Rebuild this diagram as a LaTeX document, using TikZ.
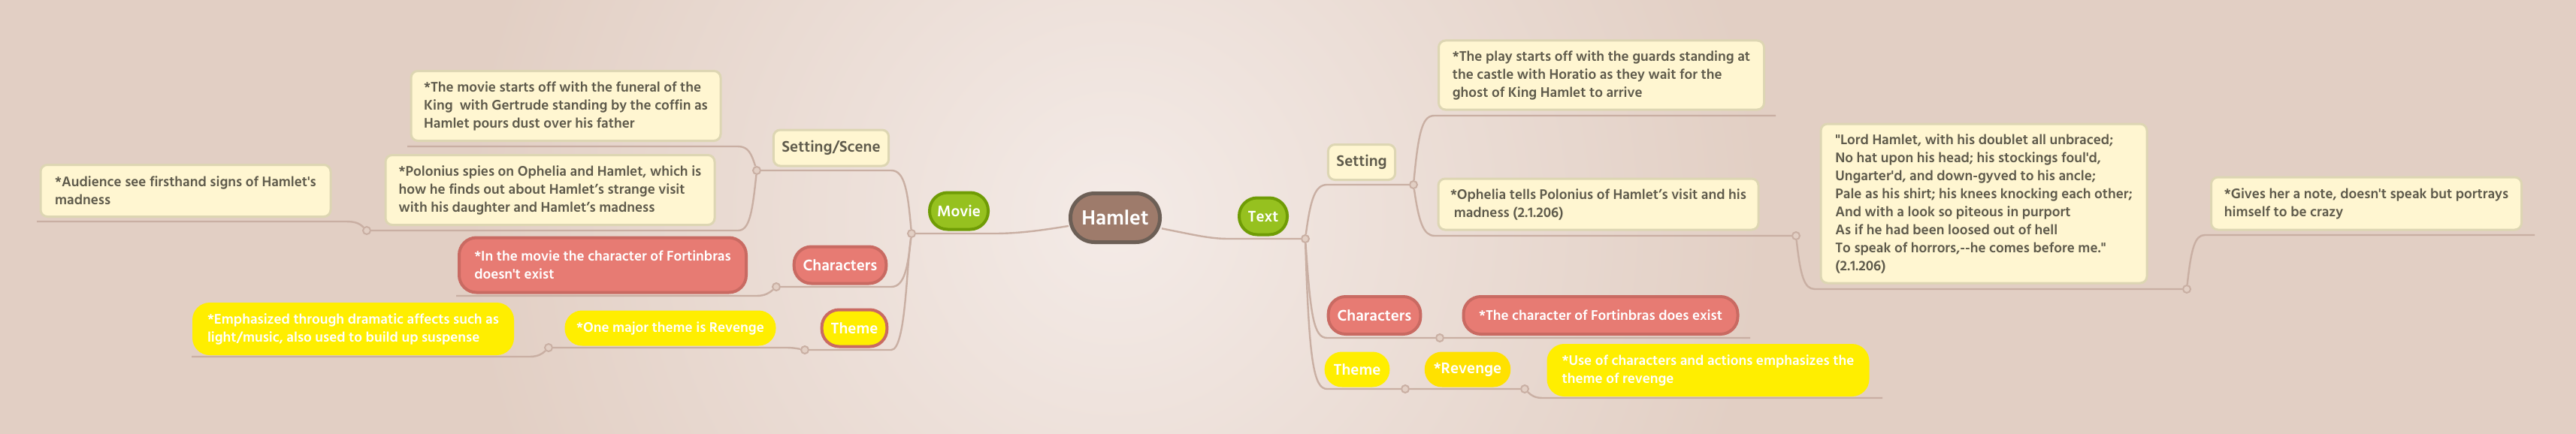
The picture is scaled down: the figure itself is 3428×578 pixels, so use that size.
\documentclass[tikz,border=0pt]{standalone}
\usepackage{fontspec}
\newfontfamily\hind{Hind Siliguri}[BoldFont={Hind Siliguri SemiBold}]
\definecolor{bgc}{HTML}{E2CFC4}
\definecolor{glowc}{HTML}{F4EBE7}
\definecolor{linkc}{HTML}{C9AFA3}
\definecolor{notefill}{HTML}{FFF6D1}
\definecolor{noteline}{HTML}{DDD6B3}
\definecolor{notetext}{HTML}{5E5A4B}
\definecolor{redfill}{HTML}{E77B73}
\definecolor{redline}{HTML}{C96A62}
\definecolor{yellowfill}{HTML}{FFEE00}
\definecolor{revfill}{HTML}{FFE100}
\definecolor{greenfill}{HTML}{96C11F}
\definecolor{greenline}{HTML}{6F9C05}
\definecolor{rootfill}{HTML}{9E7B6B}
\definecolor{rootline}{HTML}{6C5F56}
\pgfdeclareradialshading{glow}{\pgfpoint{0bp}{0bp}}{color(0bp)=(glowc); color(6bp)=(bgc); color(50bp)=(bgc)}
\tikzset{
  link/.style={draw=linkc, line width=2.4pt},
  knot/.style={circle, draw=linkc, fill=bgc, line width=2pt, minimum size=10pt, inner sep=0pt},
  note/.style={fill=notefill, draw=noteline, line width=3pt, rounded corners=9pt, text=notetext,
    align=left, inner xsep=11pt, font=\hind\bfseries\fontsize{19}{24}\selectfont},
  topic/.style={note, align=center, font=\hind\bfseries\fontsize{21}{26}\selectfont},
  redpill/.style={fill=redfill, draw=redline, line width=4pt, rounded corners=23pt, text=white,
    align=left, inner xsep=12pt, font=\hind\bfseries\fontsize{19}{24}\selectfont},
  yellowpill/.style={redpill, draw=none, fill=yellowfill},
  bigpill/.style={align=center, font=\hind\bfseries\fontsize{21}{26}\selectfont},
  greenpill/.style={fill=greenfill, draw=greenline, line width=4pt, rounded corners=24pt, text=white,
    align=center, font=\hind\bfseries\fontsize{21}{26}\selectfont},
  root/.style={fill=rootfill, draw=rootline, line width=5pt, rounded corners=32pt, text=white,
    align=center, font=\hind\bfseries\fontsize{28}{32}\selectfont}
}
\begin{document}
\begin{tikzpicture}[x=1pt,y=-1pt]
  \useasboundingbox (0,0) rectangle (3428,578);
  \shade[shading=glow] (-2116,-3310) rectangle (5084,3890);

  \node[knot] (kM) at (1213,311) {};
  \node[knot] (kSS) at (1007,227) {};
  \node[knot] (kC) at (1033,382) {};
  \node[knot] (kT) at (1071,466) {};
  \node[knot] (kP) at (488,307) {};
  \node[knot] (kE) at (730,463) {};
  \node[knot] (kX) at (1737,318) {};
  \node[knot] (kS) at (1881,246) {};
  \node[knot] (kO) at (2390,314) {};
  \node[knot] (kL) at (2910,385) {};
  \node[knot] (kCR) at (1916,450) {};
  \node[knot] (kTR) at (1870,518) {};
  \node[knot] (kR) at (2029,518) {};

  \coordinate (funEnd) at (542,195);
  \coordinate (audEnd) at (49,295);
  \coordinate (fmEnd) at (607,394);
  \coordinate (emEnd) at (255,475);
  \coordinate (fexEnd) at (2329,450);
  \coordinate (useEnd) at (2505,530);
  \coordinate (playEnd) at (2363,154);
  \coordinate (givEnd) at (3373,313);

  \node[root, minimum width=119, minimum height=65] (hamlet) at (1484,290) {Hamlet};

  \draw[link] (hamlet.190) .. controls (1385,307) and (1355,311) .. (1323,311) -- (kM);
  \draw[link] (kM) .. controls (1208,255) and (1204,227) .. (1186,227) -- (kSS);
  \draw[link] (kM) .. controls (1208,355) and (1204,382) .. (1186,382) -- (kC);
  \draw[link] (kM) .. controls (1206,360) and (1205,466) .. (1186,466) -- (kT);
  \draw[link] (kSS) .. controls (1000,205) and (996,195) .. (982,195) -- (funEnd);
  \draw[link] (kSS) .. controls (1001,285) and (997,307) .. (982,307) -- (kP);
  \draw[link] (kP) .. controls (478,297) and (472,295) .. (460,295) -- (audEnd);
  \draw[link] (kC) .. controls (1024,390) and (1018,394) .. (1007,394) -- (fmEnd);
  \draw[link] (kT) .. controls (1060,464) and (1055,463) .. (1045,463) -- (kE);
  \draw[link] (kE) .. controls (722,471) and (716,475) .. (705,475) -- (emEnd);

  \draw[link] (hamlet.-13) .. controls (1590,313) and (1610,318) .. (1635,318) -- (kX);
  \draw[link] (kX) .. controls (1744,265) and (1750,246) .. (1766,246) -- (kS);
  \draw[link] (kX) .. controls (1744,420) and (1748,450) .. (1766,450) -- (kCR) -- (fexEnd);
  \draw[link] (kX) .. controls (1742,480) and (1748,518) .. (1766,518) -- (kTR) -- (kR);
  \draw[link] (kR) .. controls (2038,527) and (2043,530) .. (2053,530) -- (useEnd);
  \draw[link] (kS) .. controls (1888,170) and (1894,154) .. (1909,154) -- (playEnd);
  \draw[link] (kS) .. controls (1888,295) and (1894,314) .. (1909,314) -- (kO);
  \draw[link] (kO) .. controls (2396,368) and (2401,385) .. (2415,385) -- (kL);
  \draw[link] (kL) .. controls (2916,330) and (2921,313) .. (2934,313) -- (givEnd);

  \node[greenpill, minimum width=78, minimum height=49] (movie) at (1276,281) {Movie};
  \node[topic, minimum width=148, minimum height=48] (scene) at (1106,197) {Setting/Scene};
  \node[redpill, bigpill, minimum width=122, minimum height=49] (charsL) at (1118,353) {Characters};
  \node[yellowpill, bigpill, draw=redline, minimum width=84, minimum height=49] (themeL) at (1137,437) {Theme};
  \node[note, minimum width=412, minimum height=93] (funeral) at (753,141) {*The movie starts off with the funeral of the\\King~ with Gertrude standing by the coffin as\\Hamlet pours dust over his father};
  \node[note, minimum width=438, minimum height=93] (polonius) at (732,253) {*Polonius spies on Ophelia and Hamlet, which is\\how he finds out about Hamlet’s strange visit\\with his daughter and Hamlet’s madness};
  \node[note, minimum width=386, minimum height=69] (audience) at (247,254) {*Audience see firsthand signs of Hamlet's\\madness};
  \node[redpill, minimum width=382, minimum height=73] (fortMovie) at (802,353) {*In the movie the character of Fortinbras\\doesn't exist};
  \node[yellowpill, align=center, minimum width=281, minimum height=47] (oneMajor) at (892,437) {*One major theme is Revenge};
  \node[yellowpill, minimum width=428, minimum height=70] (emph) at (470,438) {*Emphasized through dramatic affects such as\\light/music, also used to build up suspense};

  \node[greenpill, minimum width=64, minimum height=49] (text) at (1681,288) {Text};
  \node[topic, minimum width=88, minimum height=47] (setting) at (1812,216) {Setting};
  \node[note, minimum width=433, minimum height=92] (play) at (2131,100) {*The play starts off with the guards standing at\\the castle with Horatio as they wait for the\\ghost of King Hamlet to arrive};
  \node[note, minimum width=426, minimum height=68] (ophelia) at (2127,272) {*Ophelia tells Polonius of Hamlet’s visit and his\\\hspace*{.25em}madness (2.1.206)};
  \node[note, minimum width=434, minimum height=212] (lord) at (2640,271) {"Lord Hamlet, with his doublet all unbraced;\\No hat upon his head; his stockings foul'd,\\Ungarter'd, and down-gyved to his ancle;\\Pale as his shirt; his knees knocking each other;\\And with a look so piteous in purport\\As if he had been loosed out of hell\\To speak of horrors,--he comes before me."\\(2.1.206)};
  \node[note, minimum width=413, minimum height=70] (gives) at (3149,271) {*Gives her a note, doesn't speak but portrays\\himself to be crazy};
  \node[redpill, bigpill, minimum width=122, minimum height=50] (charsR) at (1829,420) {Characters};
  \node[redpill, align=center, minimum width=365, minimum height=50] (fortExists) at (2130,420) {*The character of Fortinbras does exist};
  \node[yellowpill, bigpill, minimum width=81, minimum height=47] (themeR) at (1806,492) {Theme};
  \node[yellowpill, bigpill, fill=revfill, minimum width=108, minimum height=47] (revenge) at (1953,492) {*Revenge};
  \node[yellowpill, minimum width=429, minimum height=70] (useChars) at (2273,493) {*Use of characters and actions emphasizes the\\theme of revenge};
\end{tikzpicture}
\end{document}
